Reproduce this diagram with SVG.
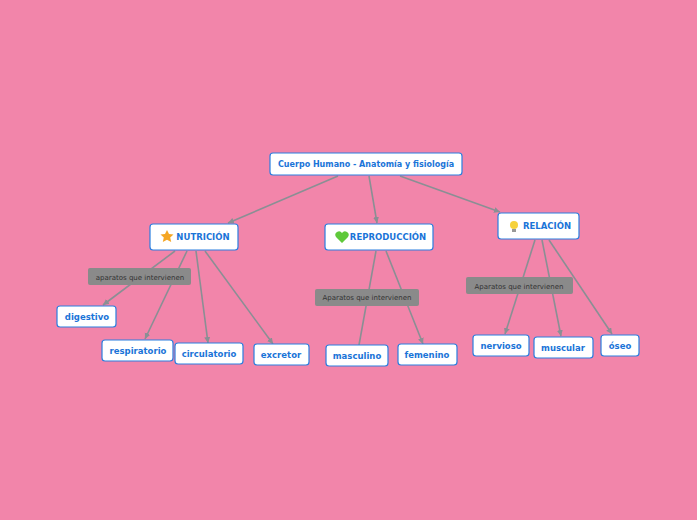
<svg xmlns="http://www.w3.org/2000/svg" width="697" height="520" viewBox="0 0 697 520">
<defs>
<marker id="a" markerWidth="8" markerHeight="8" refX="6" refY="3" orient="auto" markerUnits="userSpaceOnUse"><path d="M0,0 L6,3 L0,6 Z" fill="#8a8f94"/></marker>
<style>
.n{fill:#fff;stroke:#2a7fe0;stroke-width:1.2}
.t{font-family:"DejaVu Sans",sans-serif;font-size:8.5px;font-weight:bold;fill:#1a74d8;text-anchor:middle}
.l{fill:#8a8a8a}
.lt{font-family:"DejaVu Sans",sans-serif;font-size:7px;fill:#333;text-anchor:middle}
.c{stroke:#8a8f94;stroke-width:1.6;fill:none}
</style>
</defs>
<rect width="697" height="520" fill="#f285aa"/>
<g id="connectors">
<path class="c" d="M338,176 L228,223" marker-end="url(#a)"/>
<path class="c" d="M369,176 L377,223" marker-end="url(#a)"/>
<path class="c" d="M400,176 L500,212" marker-end="url(#a)"/>
<path class="c" d="M175,251 L103,305" marker-end="url(#a)"/>
<path class="c" d="M187,251 L145,339" marker-end="url(#a)"/>
<path class="c" d="M196,251 L208,343" marker-end="url(#a)"/>
<path class="c" d="M205,251 L273,344" marker-end="url(#a)"/>
<path class="c" d="M376,251 L359,345"/>
<path class="c" d="M386,251 L423,344" marker-end="url(#a)"/>
<path class="c" d="M535,240 L505,334" marker-end="url(#a)"/>
<path class="c" d="M542,240 L561,336" marker-end="url(#a)"/>
<path class="c" d="M549,240 L612,334" marker-end="url(#a)"/>
</g>
<g id="l1"><rect class="l" x="88" y="268" width="103" height="17" rx="2"/><text class="lt" x="140" y="280">aparatos que intervienen</text></g>
<g id="l2"><rect class="l" x="315" y="289" width="104" height="17" rx="2"/><text class="lt" x="367" y="300">Aparatos que intervienen</text></g>
<g id="l3"><rect class="l" x="466" y="277" width="107" height="17" rx="2"/><text class="lt" x="519" y="289">Aparatos que intervienen</text></g>
<g id="root"><rect class="n" x="270" y="153" width="192" height="22" rx="3"/><text class="t" x="366" y="167" style="font-size:8px">Cuerpo Humano - Anatomía y fisiología</text></g>
<g id="nutricion"><rect class="n" x="150" y="224" width="88" height="26" rx="3"/><path d="M167,230 l2,4 4.5,.5 -3.3,3 1,4.5 -4.2,-2.3 -4.2,2.3 1,-4.5 -3.3,-3 4.5,-.5z" fill="#f5a623"/><text class="t" x="203" y="240">NUTRICIÓN</text></g>
<g id="reproduccion"><rect class="n" x="325" y="224" width="108" height="26" rx="3"/><path d="M342,243 l-6,-6 a3,3 0 0 1 6,-4 a3,3 0 0 1 6,4z" fill="#5fc93a"/><text class="t" x="388" y="240">REPRODUCCIÓN</text></g>
<g id="relacion"><rect class="n" x="498" y="213" width="81" height="26" rx="3"/><circle cx="514" cy="225" r="4" fill="#f6d23c"/><rect x="512" y="229" width="4" height="3" fill="#999"/><text class="t" x="547" y="229">RELACIÓN</text></g>
<g id="digestivo"><rect class="n" x="57" y="306" width="59" height="21" rx="3"/><text class="t" x="87" y="320">digestivo</text></g>
<g id="respiratorio"><rect class="n" x="102" y="340" width="71" height="21" rx="3"/><text class="t" x="138" y="354">respiratorio</text></g>
<g id="circulatorio"><rect class="n" x="175" y="343" width="68" height="21" rx="3"/><text class="t" x="209" y="357">circulatorio</text></g>
<g id="excretor"><rect class="n" x="254" y="344" width="55" height="21" rx="3"/><text class="t" x="281" y="358">excretor</text></g>
<g id="masculino"><rect class="n" x="326" y="345" width="62" height="21" rx="3"/><text class="t" x="357" y="359">masculino</text></g>
<g id="femenino"><rect class="n" x="398" y="344" width="59" height="21" rx="3"/><text class="t" x="427" y="358">femenino</text></g>
<g id="nervioso"><rect class="n" x="473" y="335" width="56" height="21" rx="3"/><text class="t" x="501" y="349">nervioso</text></g>
<g id="muscular"><rect class="n" x="534" y="337" width="59" height="21" rx="3"/><text class="t" x="563" y="351">muscular</text></g>
<g id="oseo"><rect class="n" x="601" y="335" width="38" height="21" rx="3"/><text class="t" x="620" y="349">óseo</text></g>
</svg>
